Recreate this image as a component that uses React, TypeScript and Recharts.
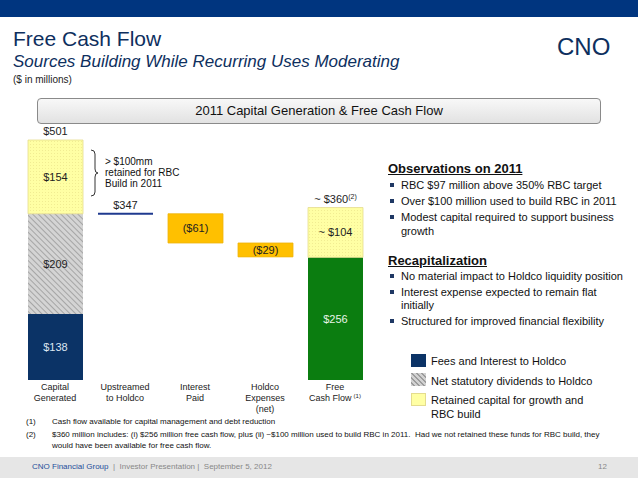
import { BarChart, Bar, XAxis, YAxis, LabelList } from 'recharts'

const FONT = '"Liberation Sans", Arial, sans-serif'

const categories = ['Capital Generated', 'Upstreamed to Holdco', 'Interest Paid', 'Holdco Expenses (net)', 'Free Cash Flow']
const tickLines = [
  ['Capital', 'Generated'],
  ['Upstreamed', 'to Holdco'],
  ['Interest', 'Paid'],
  ['Holdco', 'Expenses', '(net)'],
  ['Free', 'Cash Flow'],
]
const tickNotes = ['', '', '', '', '(1)']

// invisible offset that floats the "uses" bars
const offsetValues = [0, 0, 286, 257, 0]
const feesValues = [138, 0, 0, 0, 0]
const fcfValues = [0, 0, 0, 0, 256]
const dividendValues = [209, 0, 0, 0, 0]
const upstreamValues = [0, 347, 0, 0, 0]
const usesValues = [0, 0, 61, 29, 0]
const retainedValues = [154, 0, 0, 0, 104]

const feesLabels = ['$138', '', '', '', '']
const fcfLabels = ['', '', '', '', '$256']
const dividendLabels = ['$209', '', '', '', '']
const usesLabels = ['', '', '($61)', '($29)', '']
const retainedLabels = ['$154', '', '', '', '~ $104']
const totalLabels = ['$501', '$347', '', '', '~ $360']
const totalNotes = ['', '', '', '', '(2)']

const data = categories.map((category, i) => ({
  category,
  offset: offsetValues[i],
  fees: feesValues[i],
  fcf: fcfValues[i],
  dividends: dividendValues[i],
  upstream: upstreamValues[i],
  uses: usesValues[i],
  retained: retainedValues[i],
  feesLabel: feesLabels[i],
  fcfLabel: fcfLabels[i],
  dividendLabel: dividendLabels[i],
  usesLabel: usesLabels[i],
  retainedLabel: retainedLabels[i],
  total: retainedValues[i] ? totalLabels[i] : '',
  level: upstreamValues[i] ? totalLabels[i] : '',
}))

const CategoryTick = (props: any) => {
  const { x, y } = props
  const index = props.index ?? props.payload?.index ?? 0
  const lines = tickLines[index] || []
  return (
    <text x={x} y={y} textAnchor="middle" fontSize={9} fill="#222" fontFamily={FONT}>
      {lines.map((line, i) => (
        <tspan key={i} x={x} dy={i === 0 ? 10 : 11}>
          {line}
          {i === lines.length - 1 && tickNotes[index] ? (
            <tspan dx={2} dy={-3} fontSize={6}>{tickNotes[index]}</tspan>
          ) : null}
        </tspan>
      ))}
    </text>
  )
}

const TotalLabel = (props: any) => {
  const { x, y, width, value } = props
  if (!value) return null
  const note = totalNotes[totalLabels.indexOf(value)]
  return (
    <text x={x + width / 2} y={y - 5} textAnchor="middle" fontSize={11} fill="#222" fontFamily={FONT}>
      {value}
      {note ? <tspan dy={-4} fontSize={7}>{note}</tspan> : null}
    </text>
  )
}

// upstream amount is drawn as a single rule at its level
const LevelLine = (props: any) => {
  const { x, y, width, height } = props
  if (!height) return <g />
  return <line x1={x} x2={x + width} y1={y} y2={y} stroke="#1F3A8F" strokeWidth={2} />
}

const Txt = ({ x, base, size, children, style }: any) => (
  <div
    style={{
      position: 'absolute',
      left: x,
      top: base - size * 0.8465,
      fontSize: size,
      lineHeight: 1,
      whiteSpace: 'nowrap',
      ...style,
    }}
  >
    {children}
  </div>
)

const Bullet = ({ base, children }: any) => (
  <>
    <div style={{ position: 'absolute', left: 390, top: base - 6, width: 4, height: 4, background: '#1F3864' }} />
    <Txt x={401} base={base} size={11}>{children}</Txt>
  </>
)

const hatchCss = 'repeating-linear-gradient(45deg, #d2d2d2 0px, #d2d2d2 2px, #9c9c9c 2px, #9c9c9c 3.5px)'

export default function App() {
  return (
    <div
      style={{
        position: 'absolute',
        left: 0,
        top: 0,
        width: 638,
        height: 478,
        overflow: 'hidden',
        background: '#fff',
        fontFamily: FONT,
        color: '#111',
      }}
    >
      <div style={{ position: 'absolute', left: 0, top: 0, width: 638, height: 17, background: '#00357F' }} />
      <Txt x={13} base={46} size={21} style={{ color: '#0E2F5E' }}>Free Cash Flow</Txt>
      <Txt x={13} base={67} size={17} style={{ color: '#0E2F5E', fontStyle: 'italic' }}>
        Sources Building While Recurring Uses Moderating
      </Txt>
      <Txt x={13} base={83} size={10} style={{ color: '#222' }}>($ in millions)</Txt>
      <Txt x={557} base={55} size={24} style={{ color: '#0E2F5E' }}>CNO</Txt>

      <div
        style={{
          position: 'absolute',
          left: 37,
          top: 98,
          width: 562,
          height: 24,
          border: '1px solid #8a8a8a',
          borderRadius: 4,
          background: 'linear-gradient(#f8f8f8, #e2e2e2)',
          fontSize: 13,
          lineHeight: '24px',
          textAlign: 'center',
          color: '#111',
        }}
      >
        2011 Capital Generation &amp; Free Cash Flow
      </div>

      <div style={{ position: 'absolute', left: 0, top: 120 }}>
        <BarChart
          width={380}
          height={300}
          data={data}
          margin={{ top: 20, right: 10, left: 20, bottom: 0 }}
          barSize={55}
        >
          <defs>
            <pattern id="hatch" width="4" height="4" patternUnits="userSpaceOnUse" patternTransform="rotate(-45)">
              <rect width="4" height="4" fill="#d4d4d4" />
              <line x1="0" y1="0" x2="0" y2="4" stroke="#a0a0a0" strokeWidth="1.8" />
            </pattern>
            <pattern id="dots" width="3" height="3" patternUnits="userSpaceOnUse">
              <rect width="3" height="3" fill="#FFFFA4" />
              <rect width="1" height="1" fill="#F1EC92" />
            </pattern>
          </defs>
          <XAxis
            dataKey="category"
            axisLine={false}
            tickLine={false}
            tickSize={0}
            tickMargin={0}
            height={40}
            interval={0}
            tick={(p: any) => <CategoryTick {...p} />}
          />
          <YAxis hide domain={[0, 'dataMax']} />
          <Bar dataKey="offset" stackId="a" fill="transparent" isAnimationActive={false} />
          <Bar dataKey="fees" stackId="a" fill="#0B3366" isAnimationActive={false}>
            <LabelList dataKey="feesLabel" position="center" fill="#DCE6F2" fontSize={11} fontFamily={FONT} />
          </Bar>
          <Bar dataKey="fcf" stackId="a" fill="#0B7D10" isAnimationActive={false}>
            <LabelList dataKey="fcfLabel" position="center" fill="#E8F5E8" fontSize={11} fontFamily={FONT} />
          </Bar>
          <Bar dataKey="dividends" stackId="a" fill="url(#hatch)" isAnimationActive={false}>
            <LabelList dataKey="dividendLabel" position="center" fill="#222" fontSize={11} fontFamily={FONT} />
          </Bar>
          <Bar dataKey="upstream" stackId="a" isAnimationActive={false} shape={(p: any) => <LevelLine {...p} />}>
            <LabelList dataKey="level" content={(p: any) => <TotalLabel {...p} />} />
          </Bar>
          <Bar dataKey="uses" stackId="a" fill="#FFC000" stroke="#EDB40C" strokeWidth={0.8} isAnimationActive={false}>
            <LabelList dataKey="usesLabel" position="center" fill="#222" fontSize={11} fontFamily={FONT} />
          </Bar>
          <Bar dataKey="retained" stackId="a" fill="url(#dots)" stroke="#E4DC8E" strokeWidth={0.8} isAnimationActive={false}>
            <LabelList dataKey="retainedLabel" position="center" fill="#222" fontSize={11} fontFamily={FONT} />
            <LabelList dataKey="total" content={(p: any) => <TotalLabel {...p} />} />
          </Bar>
        </BarChart>
      </div>

      <svg style={{ position: 'absolute', left: 0, top: 0 }} width={638} height={478}>
        <path
          d="M 91 150 Q 95 150 95 154 L 95 169 Q 95 173 98 173 Q 95 173 95 177 L 95 192 Q 95 196 91 196"
          fill="none"
          stroke="#333"
          strokeWidth={1}
        />
      </svg>
      <Txt x={105} base={165} size={10}>&gt; $100mm</Txt>
      <Txt x={105} base={176} size={10}>retained for RBC</Txt>
      <Txt x={105} base={187} size={10}>Build in 2011</Txt>

      <Txt x={388} base={173} size={13} style={{ fontWeight: 'bold', textDecoration: 'underline' }}>Observations on 2011</Txt>
      <Bullet base={189}>RBC $97 million above 350% RBC target</Bullet>
      <Bullet base={205}>Over $100 million used to build RBC in 2011</Bullet>
      <Bullet base={221}>Modest capital required to support business</Bullet>
      <Txt x={401} base={235} size={11}>growth</Txt>

      <Txt x={388} base={265} size={13} style={{ fontWeight: 'bold', textDecoration: 'underline' }}>Recapitalization</Txt>
      <Bullet base={280}>No material impact to Holdco liquidity position</Bullet>
      <Bullet base={296}>Interest expense expected to remain flat</Bullet>
      <Txt x={401} base={309} size={11}>initially</Txt>
      <Bullet base={325}>Structured for improved financial flexibility</Bullet>

      <div style={{ position: 'absolute', left: 411, top: 354, width: 15, height: 13, background: '#0B3366' }} />
      <div style={{ position: 'absolute', left: 411, top: 373, width: 15, height: 13, background: hatchCss }} />
      <div style={{ position: 'absolute', left: 411, top: 393, width: 15, height: 13, background: '#FFFFA4', boxSizing: 'border-box', border: '1px solid #E4DC8E' }} />
      <Txt x={431} base={365} size={11}>Fees and Interest to Holdco</Txt>
      <Txt x={431} base={385} size={11}>Net statutory dividends to Holdco</Txt>
      <Txt x={431} base={404} size={11}>Retained capital for growth and</Txt>
      <Txt x={431} base={418} size={11}>RBC build</Txt>

      <Txt x={26} base={425} size={8}>(1)</Txt>
      <Txt x={52} base={425} size={8}>Cash flow available for capital management and debt reduction</Txt>
      <Txt x={26} base={438} size={8}>(2)</Txt>
      <Txt x={52} base={438} size={8}>
        $360 million includes: (i) $256 million free cash flow, plus (ii) ~$100 million used to build RBC in 2011.&nbsp; Had we not retained these funds for RBC build, they
      </Txt>
      <Txt x={52} base={449} size={8}>would have been available for free cash flow.</Txt>

      <div style={{ position: 'absolute', left: 0, top: 457, width: 638, height: 21, background: '#E6E6E6' }} />
      <Txt x={32} base={470} size={8} style={{ color: '#888' }}>
        <span style={{ color: '#1F4E9A' }}>CNO Financial Group</span>&nbsp; |&nbsp; Investor Presentation |&nbsp; September 5, 2012
      </Txt>
      <Txt x={598} base={470} size={8} style={{ color: '#888' }}>12</Txt>
    </div>
  )
}
